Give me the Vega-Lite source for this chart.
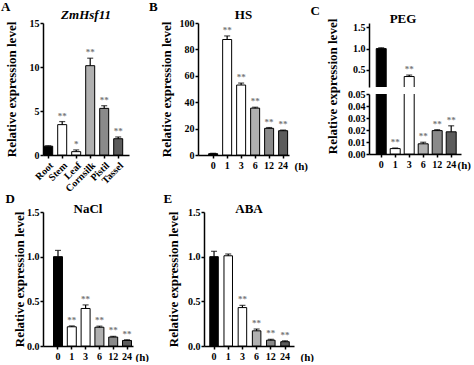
{
  "$schema": "https://vega.github.io/schema/vega-lite/v6.json",
  "padding": {"left": 0, "top": 1, "right": 0, "bottom": 0},
  "background": "white",
  "datasets": {
    "tissue": [
      {"k": "Root", "v": 1.0, "u": 1.05, "s": ""},
      {"k": "Stem", "v": 3.45, "u": 3.8, "s": "**"},
      {"k": "Leaf", "v": 0.38, "u": 0.58, "s": "*"},
      {"k": "Cornsilk", "v": 10.15, "u": 11.0, "s": "**"},
      {"k": "Pistil", "v": 5.3, "u": 5.6, "s": "**"},
      {"k": "Tassel", "v": 1.85, "u": 2.05, "s": "**"}
    ],
    "hs": [
      {"k": "0", "v": 1.0, "u": 1.3, "s": ""},
      {"k": "1", "v": 87.5, "u": 90.2, "s": "**"},
      {"k": "3", "v": 53.0, "u": 54.5, "s": "**"},
      {"k": "6", "v": 35.5, "u": 36.2, "s": "**"},
      {"k": "12", "v": 20.2, "u": 20.8, "s": "**"},
      {"k": "24", "v": 18.4, "u": 18.9, "s": "**"}
    ],
    "peg": [
      {"k": "0", "v": 1.0, "u": 1.02, "s": ""},
      {"k": "1", "v": 0.0045, "u": 0.005, "s": "**"},
      {"k": "3", "v": 0.345, "u": 0.38, "s": "**"},
      {"k": "6", "v": 0.0085, "u": 0.0098, "s": "**"},
      {"k": "12", "v": 0.0195, "u": 0.0203, "s": "**"},
      {"k": "24", "v": 0.0185, "u": 0.0235, "s": "**"}
    ],
    "nacl": [
      {"k": "0", "v": 1.0, "u": 1.07, "s": ""},
      {"k": "1", "v": 0.215, "u": 0.225, "s": "**"},
      {"k": "3", "v": 0.42, "u": 0.46, "s": "**"},
      {"k": "6", "v": 0.21, "u": 0.222, "s": "**"},
      {"k": "12", "v": 0.1, "u": 0.108, "s": "**"},
      {"k": "24", "v": 0.062, "u": 0.07, "s": "**"}
    ],
    "aba": [
      {"k": "0", "v": 1.0, "u": 1.06, "s": ""},
      {"k": "1", "v": 1.01, "u": 1.03, "s": ""},
      {"k": "3", "v": 0.43, "u": 0.455, "s": "**"},
      {"k": "6", "v": 0.17, "u": 0.19, "s": "**"},
      {"k": "12", "v": 0.065, "u": 0.075, "s": "**"},
      {"k": "24", "v": 0.048, "u": 0.058, "s": "**"}
    ]
  },
  "config": {
    "font": "Liberation Serif",
    "view": {"stroke": null},
    "axis": {
      "grid": false,
      "labelFont": "Liberation Serif",
      "labelFontSize": 10,
      "labelFontWeight": "bold",
      "labelColor": "#000",
      "labelOverlap": false,
      "labelFlush": false,
      "titleFont": "Liberation Serif",
      "titleFontSize": 13,
      "titleFontWeight": "bold",
      "titleColor": "#000",
      "domainColor": "#000",
      "domainWidth": 1.5,
      "tickColor": "#000",
      "tickWidth": 1.5,
      "tickSize": 3,
      "labelPadding": 1
    },
    "axisX": {"labelPadding": 2, "labelAngle": 0},
    "title": {
      "font": "Liberation Serif",
      "fontSize": 13,
      "fontWeight": "bold",
      "color": "#000",
      "frame": "group",
      "anchor": "middle",
      "offset": -4
    }
  },
  "spacing": -1,
  "vconcat": [
    {
      "spacing": 2,
      "hconcat": [
        {
          "spacing": 19,
          "hconcat": [
            {
              "title": {"text": "A", "anchor": "start", "frame": "bounds", "offset": -5, "dx": -4},
              "vconcat": [
                {
                  "title": {"text": "ZmHsf11", "fontStyle": "italic"},
                  "width": 86,
                  "height": 132,
                  "data": {"name": "tissue"},
                  "encoding": {
                    "x": {"field": "k", "type": "nominal", "sort": null, "title": null,
                      "scale": {"paddingInner": 0.357, "paddingOuter": 0.25, "align": 0.1},
                      "axis": {"labelAngle": -45}}
                  },
                  "layer": [
                    {"mark": {"type": "bar", "stroke": "#000", "strokeWidth": 1},
                      "encoding": {
                        "y": {"field": "v", "type": "quantitative", "title": "Relative expression level",
                          "scale": {"domain": [0, 15], "nice": false},
                          "axis": {"values": [0, 5, 10, 15], "tickCount": 20, "titlePadding": 11, "labelOverlap": false}},
                        "fill": {"field": "k", "type": "nominal", "sort": null, "legend": null,
                          "scale": {"domain": ["Root", "Stem", "Leaf", "Cornsilk", "Pistil", "Tassel"],
                            "range": ["#000000", "#ffffff", "#ffffff", "#b0b0b0", "#8a8a8a", "#5c5c5c"]}}
                      }},
                    {"mark": {"type": "rule", "strokeWidth": 1.2, "color": "#000"},
                      "encoding": {"y": {"field": "v", "type": "quantitative", "title": "Relative expression level"}, "y2": {"field": "u"}}},
                    {"mark": {"type": "tick", "size": 6, "thickness": 1.2, "color": "#000"},
                      "encoding": {"y": {"field": "u", "type": "quantitative", "title": "Relative expression level"}}},
                    {"mark": {"type": "text", "baseline": "bottom", "dy": -1, "fontSize": 9, "fontWeight": "bold", "color": "#777777"},
                      "encoding": {"y": {"field": "u", "type": "quantitative", "title": "Relative expression level"}, "text": {"field": "s"}}}
                  ]
                }
              ]
            },
            {
              "title": {"text": "B", "anchor": "start", "frame": "bounds", "offset": -5, "dx": -11},
              "vconcat": [
                {
                  "title": {"text": "HS"},
                  "width": 91,
                  "height": 132,
                  "data": {"name": "hs"},
                  "encoding": {
                    "x": {"field": "k", "type": "nominal", "sort": null, "title": "(h)",
                      "scale": {"paddingInner": 0.357, "paddingOuter": 0.43, "align": 0.885},
                      "axis": {"titleX": 96, "titleY": 5, "titleAlign": "left", "titleBaseline": "top", "titleAngle": 0, "titleFontSize": 11}}
                  },
                  "layer": [
                    {"mark": {"type": "bar", "stroke": "#000", "strokeWidth": 1},
                      "encoding": {
                        "y": {"field": "v", "type": "quantitative", "title": "Relative expression level",
                          "scale": {"domain": [0, 100], "nice": false},
                          "axis": {"values": [0, 20, 40, 60, 80, 100], "tickCount": 20, "titlePadding": 6, "labelOverlap": false}},
                        "fill": {"field": "k", "type": "nominal", "sort": null, "legend": null,
                          "scale": {"domain": ["0", "1", "3", "6", "12", "24"],
                            "range": ["#000000", "#ffffff", "#d9d9d9", "#a9a9a9", "#858585", "#666666"]}}
                      }},
                    {"mark": {"type": "rule", "strokeWidth": 1.2, "color": "#000"},
                      "encoding": {"y": {"field": "v", "type": "quantitative", "title": "Relative expression level"}, "y2": {"field": "u"}}},
                    {"mark": {"type": "tick", "size": 6, "thickness": 1.2, "color": "#000"},
                      "encoding": {"y": {"field": "u", "type": "quantitative", "title": "Relative expression level"}}},
                    {"mark": {"type": "text", "baseline": "bottom", "dy": -1, "fontSize": 9, "fontWeight": "bold", "color": "#777777"},
                      "encoding": {"y": {"field": "u", "type": "quantitative", "title": "Relative expression level"}, "text": {"field": "s"}}}
                  ]
                }
              ]
            }
          ]
        },
        {
          "title": {"text": "C", "anchor": "start", "frame": "bounds", "offset": -5, "dx": -16},
          "bounds": "flush",
          "spacing": 7,
          "vconcat": [
            {
              "title": {"text": "PEG", "dx": -12},
              "width": 92,
              "height": 64,
              "data": {"name": "peg"},
              "encoding": {
                "x": {"field": "k", "type": "nominal", "sort": null, "title": null,
                  "scale": {"paddingInner": 0.286, "paddingOuter": 0.43, "align": 0.6},
                  "axis": null}
              },
              "layer": [
                {"mark": {"type": "bar", "stroke": "#000", "strokeWidth": 1, "clip": true},
                  "encoding": {
                    "y": {"field": "v", "type": "quantitative", "title": "",
                      "scale": {"domain": [0.1, 1.6], "nice": false, "zero": false},
                      "axis": {"values": [1.5, 1.0, 0.5], "tickCount": 20, "format": ".1f", "labelOverlap": false, "labelBound": false, "labelFlush": false}},
                    "fill": {"field": "k", "type": "nominal", "sort": null, "legend": null,
                      "scale": {"domain": ["0", "1", "3", "6", "12", "24"],
                        "range": ["#000000", "#ffffff", "#d9d9d9", "#a9a9a9", "#858585", "#666666"]}}
                  }},
                {"mark": {"type": "rule", "strokeWidth": 1.2, "color": "#000", "clip": true},
                  "encoding": {"y": {"field": "v", "type": "quantitative", "title": ""}, "y2": {"field": "u"}}},
                {"mark": {"type": "tick", "size": 6, "thickness": 1.2, "color": "#000", "clip": true},
                  "encoding": {"y": {"field": "u", "type": "quantitative", "title": ""}}},
                {"transform": [{"filter": "datum.u >= 0.1"}],
                  "mark": {"type": "text", "baseline": "bottom", "dy": -1, "fontSize": 9, "fontWeight": "bold", "color": "#777777", "clip": true},
                  "encoding": {"y": {"field": "u", "type": "quantitative", "title": ""}, "text": {"field": "s"}}}
              ]
            },
            {
              "width": 92,
              "height": 60,
              "data": {"name": "peg"},
              "encoding": {
                "x": {"field": "k", "type": "nominal", "sort": null, "title": "(h)",
                  "scale": {"paddingInner": 0.286, "paddingOuter": 0.43, "align": 0.6},
                  "axis": {"titleX": 88, "titleY": 5, "titleAlign": "left", "titleBaseline": "top", "titleAngle": 0, "titleFontSize": 11}}
              },
              "layer": [
                {"mark": {"type": "bar", "stroke": "#000", "strokeWidth": 1, "clip": true},
                  "encoding": {
                    "y": {"field": "v", "type": "quantitative", "title": "Relative expression level",
                      "scale": {"domain": [0, 0.05], "nice": false},
                      "axis": {"values": [0, 0.01, 0.02, 0.03, 0.04, 0.05], "tickCount": 20, "format": ".2f", "titlePadding": 8, "titleY": -8, "labelOverlap": false}},
                    "fill": {"field": "k", "type": "nominal", "sort": null, "legend": null,
                      "scale": {"domain": ["0", "1", "3", "6", "12", "24"],
                        "range": ["#000000", "#ffffff", "#d9d9d9", "#a9a9a9", "#858585", "#666666"]}}
                  }},
                {"mark": {"type": "rule", "strokeWidth": 1.2, "color": "#000", "clip": true},
                  "encoding": {"y": {"field": "v", "type": "quantitative", "title": "Relative expression level"}, "y2": {"field": "u"}}},
                {"mark": {"type": "tick", "size": 6, "thickness": 1.2, "color": "#000", "clip": true},
                  "encoding": {"y": {"field": "u", "type": "quantitative", "title": "Relative expression level"}}},
                {"transform": [{"filter": "datum.u <= 0.05"}],
                  "mark": {"type": "text", "baseline": "bottom", "dy": -1, "fontSize": 9, "fontWeight": "bold", "color": "#777777", "clip": true},
                  "encoding": {"y": {"field": "u", "type": "quantitative", "title": "Relative expression level"}, "text": {"field": "s"}}}
              ]
            }
          ]
        }
      ]
    },
    {
      "spacing": 14,
      "hconcat": [
        {
          "title": {"text": "D", "anchor": "start", "frame": "bounds", "offset": -3, "dx": -8},
          "vconcat": [
            {
              "title": {"text": "NaCl", "offset": -9},
              "width": 90,
              "height": 134,
              "data": {"name": "nacl"},
              "encoding": {
                "x": {"field": "k", "type": "nominal", "sort": null, "title": "(h)",
                  "scale": {"paddingInner": 0.35, "paddingOuter": 0.435, "align": 0.875},
                  "axis": {"titleX": 92, "titleY": 5, "titleAlign": "left", "titleBaseline": "top", "titleAngle": 0, "titleFontSize": 11}}
              },
              "layer": [
                {"mark": {"type": "bar", "stroke": "#000", "strokeWidth": 1},
                  "encoding": {
                    "y": {"field": "v", "type": "quantitative", "title": "Relative expression level",
                      "scale": {"domain": [0, 1.5], "nice": false},
                      "axis": {"values": [0, 0.5, 1.0, 1.5], "tickCount": 20, "format": ".1f", "titlePadding": 0, "labelOverlap": false}},
                    "fill": {"field": "k", "type": "nominal", "sort": null, "legend": null,
                      "scale": {"domain": ["0", "1", "3", "6", "12", "24"],
                        "range": ["#000000", "#ffffff", "#d9d9d9", "#a9a9a9", "#858585", "#666666"]}}
                  }},
                {"mark": {"type": "rule", "strokeWidth": 1.2, "color": "#000"},
                  "encoding": {"y": {"field": "v", "type": "quantitative", "title": "Relative expression level"}, "y2": {"field": "u"}}},
                {"mark": {"type": "tick", "size": 6, "thickness": 1.2, "color": "#000"},
                  "encoding": {"y": {"field": "u", "type": "quantitative", "title": "Relative expression level"}}},
                {"mark": {"type": "text", "baseline": "bottom", "dy": -1, "fontSize": 9, "fontWeight": "bold", "color": "#777777"},
                  "encoding": {"y": {"field": "u", "type": "quantitative", "title": "Relative expression level"}, "text": {"field": "s"}}}
              ]
            }
          ]
        },
        {
          "title": {"text": "E", "anchor": "start", "frame": "bounds", "offset": -3, "dx": -4},
          "vconcat": [
            {
              "title": {"text": "ABA", "offset": -9},
              "width": 90,
              "height": 134,
              "data": {"name": "aba"},
              "encoding": {
                "x": {"field": "k", "type": "nominal", "sort": null, "title": "(h)",
                  "scale": {"paddingInner": 0.4, "paddingOuter": 0.37, "align": 0.55},
                  "axis": {"titleX": 96, "titleY": 5, "titleAlign": "left", "titleBaseline": "top", "titleAngle": 0, "titleFontSize": 11}}
              },
              "layer": [
                {"mark": {"type": "bar", "stroke": "#000", "strokeWidth": 1},
                  "encoding": {
                    "y": {"field": "v", "type": "quantitative", "title": "Relative expression level",
                      "scale": {"domain": [0, 1.5], "nice": false},
                      "axis": {"values": [0, 0.5, 1.0, 1.5], "tickCount": 20, "format": ".1f", "titlePadding": 7, "labelOverlap": false}},
                    "fill": {"field": "k", "type": "nominal", "sort": null, "legend": null,
                      "scale": {"domain": ["0", "1", "3", "6", "12", "24"],
                        "range": ["#000000", "#ffffff", "#d9d9d9", "#a9a9a9", "#858585", "#666666"]}}
                  }},
                {"mark": {"type": "rule", "strokeWidth": 1.2, "color": "#000"},
                  "encoding": {"y": {"field": "v", "type": "quantitative", "title": "Relative expression level"}, "y2": {"field": "u"}}},
                {"mark": {"type": "tick", "size": 6, "thickness": 1.2, "color": "#000"},
                  "encoding": {"y": {"field": "u", "type": "quantitative", "title": "Relative expression level"}}},
                {"mark": {"type": "text", "baseline": "bottom", "dy": -1, "fontSize": 9, "fontWeight": "bold", "color": "#777777"},
                  "encoding": {"y": {"field": "u", "type": "quantitative", "title": "Relative expression level"}, "text": {"field": "s"}}}
              ]
            }
          ]
        }
      ]
    }
  ]
}
